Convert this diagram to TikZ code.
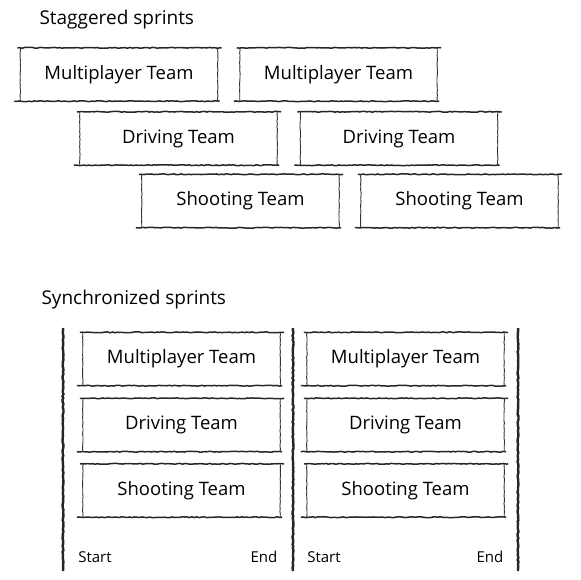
\documentclass[tikz,border=0pt]{standalone}
\usepackage{fontspec}
\setmainfont{Open Sans}
\usetikzlibrary{decorations.pathmorphing}

\begin{document}
\begin{tikzpicture}[
    x=1pt, y=-1pt,
    % team boxes: text only, the sketchy outline is drawn afterwards
    team/.style={minimum width=197pt, minimum height=53pt, inner sep=0pt,
      font=\fontsize{18.5}{21}\selectfont},
    title/.style={anchor=west, font=\fontsize{19}{22}\selectfont},
    mark label/.style={font=\fontsize{15}{17}\selectfont},
    hrough/.style={line width=1.5pt, black!85, decorate,
      decoration={random steps, segment length=2.5pt, amplitude=0.45pt}},
    vrough/.style={line width=0.9pt, black!80, decorate,
      decoration={random steps, segment length=2.5pt, amplitude=0.3pt}},
    sprintline/.style={line width=2.4pt, black!85, decorate,
      decoration={random steps, segment length=2pt, amplitude=0.5pt}}
]
    \pgfmathsetseed{7}
    \useasboundingbox (0,0) rectangle (580,580);

    % --- Staggered sprints ---
    \node[title] (stagtitle) at (36,20) {Staggered sprints};

    \node[team] (multiA) at (119,74.5)   {Multiplayer Team};
    \node[team] (multiB) at (338.5,74.5) {Multiplayer Team};
    \node[team] (driveA) at (178.5,138.5) {Driving Team};
    \node[team] (driveB) at (399,138.5)   {Driving Team};
    \node[team] (shootA) at (240.5,201)  {Shooting Team};
    \node[team] (shootB) at (459.5,201)  {Shooting Team};

    % --- Synchronized sprints ---
    \node[title] (synctitle) at (38,300) {Synchronized sprints};

    \node[team] (smultiA) at (181.5,359)   {Multiplayer Team};
    \node[team] (sdriveA) at (181.5,425)   {Driving Team};
    \node[team] (sshootA) at (181.5,490.5) {Shooting Team};
    \node[team] (smultiB) at (405.5,359)   {Multiplayer Team};
    \node[team] (sdriveB) at (405.5,425)   {Driving Team};
    \node[team] (sshootB) at (405.5,490.5) {Shooting Team};

    % sprint boundaries
    \coordinate (b1top) at (63,328);  \coordinate (b1bot) at (63,571);
    \coordinate (b2top) at (293,328); \coordinate (b2bot) at (293,571);
    \coordinate (b3top) at (518,328); \coordinate (b3bot) at (518,571);
    \foreach \b in {b1,b2,b3}
        \draw[sprintline] (\b top) -- (\b bot);

    \node[mark label] (startA) at (95,557)  {Start};
    \node[mark label] (endA)   at (264,557) {End};
    \node[mark label] (startB) at (324,557) {Start};
    \node[mark label] (endB)   at (490,557) {End};

    % sketchy outlines of all team boxes
    \foreach \n in {multiA,multiB,driveA,driveB,shootA,shootB,
                    smultiA,sdriveA,sshootA,smultiB,sdriveB,sshootB} {
        \draw[hrough] ([xshift=-3pt]\n.north west) -- ([xshift=4pt]\n.north east);
        \draw[hrough] ([xshift=-6pt]\n.south west) -- ([xshift=2pt]\n.south east);
        \draw[vrough] (\n.north west) -- (\n.south west);
        \draw[vrough] (\n.north east) -- (\n.south east);
    }
\end{tikzpicture}
\end{document}
